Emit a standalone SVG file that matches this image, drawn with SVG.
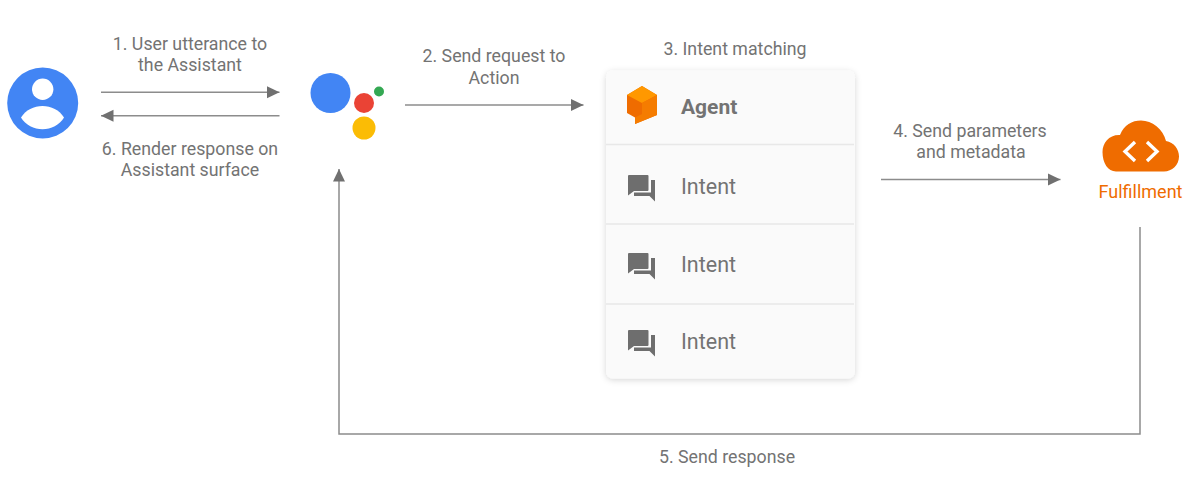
<svg xmlns="http://www.w3.org/2000/svg" width="1200" height="489" viewBox="0 0 1200 489">
<style>
text{font-family:Roboto,"Liberation Sans",sans-serif;fill:#737373;font-size:17.75px;text-anchor:middle}
.it{font-size:21.5px;text-anchor:start}
.c{fill:none;stroke:#8c8c8c;stroke-width:1.5}
</style>
<defs>
<marker id="a" markerUnits="userSpaceOnUse" markerWidth="14" markerHeight="14" refX="12.500" refY="7" orient="auto"><path d="M0 1L12.500 7L0 13Z" fill="#707070"/></marker>
<filter id="s" x="-10%" y="-10%" width="120%" height="120%"><feDropShadow dx="0" dy="1.5" stdDeviation="3" flood-color="#000" flood-opacity=".16"/></filter>
<g id="chat"><path d="M629 175H647.500Q648.500 175 648.500 176V190Q648.500 191 647.500 191H634L628 195.500V176Q628 175 629 175Z" fill="#6e6e6e"/><path d="M634 192.500H651V180H655V201.500L649.500 196H634Z" fill="#6e6e6e"/></g>
</defs>
<rect width="1200" height="489" fill="#fff"/>
<g id="connectors">
<path class="c" d="M101 92.300H279.500" marker-end="url(#a)"/>
<path class="c" d="M279.500 115.700H101" marker-end="url(#a)"/>
<path class="c" d="M405 105H583.500" marker-end="url(#a)"/>
<path class="c" d="M881 179.500H1060.500" marker-end="url(#a)"/>
<path class="c" d="M1140 227V434H339V169" marker-end="url(#a)"/>
</g>
<g id="labels">
<text x="190" y="50">1. User utterance to</text><text x="190" y="71">the Assistant</text>
<text x="190" y="155">6. Render response on</text><text x="190" y="176">Assistant surface</text>
<text x="494" y="62">2. Send request to</text><text x="494" y="84">Action</text>
<text x="735" y="55">3. Intent matching</text>
<text x="970" y="137">4. Send parameters</text><text x="971" y="158">and metadata</text>
<text x="727" y="462.500">5. Send response</text>
</g>
<g id="user">
<circle cx="42.700" cy="103" r="35.500" fill="#4285f4"/>
<circle cx="42.700" cy="89.200" r="10.700" fill="#fff"/>
<path d="M21 117.500C30 102 55 102 64 117.500C55 133 30 133 21 117.500Z" fill="#fff"/>
</g>
<g id="assistant">
<circle cx="330.500" cy="93" r="20" fill="#4285f4"/>
<circle cx="364" cy="103" r="10" fill="#ea4335"/>
<circle cx="379" cy="91.500" r="5" fill="#34a853"/>
<circle cx="364" cy="128" r="11.500" fill="#fbbc05"/>
</g>
<g id="panel">
<rect x="606" y="70.500" width="249" height="308" rx="7" fill="#fafafa" filter="url(#s)"/>
<path d="M606 144.500H854M606 224H854M606 304H854" stroke="#e8e8e8" stroke-width="1.300" fill="none"/>
</g>
<g id="agent">
<path d="M642 86L657 95V115L635 124V117.500L627 113V95Z" fill="#ef6c00"/>
<path d="M642 86L657 95L642 103L627 95Z" fill="#ff9800"/>
<path d="M642 103L657 95V115L635 124V117.500L642 114Z" fill="#f57c00"/>
<text class="it" x="681" y="114" style="font-weight:700;font-size:21px">Agent</text>
</g>
<g id="intent1"><use href="#chat"/><text class="it" x="681" y="194">Intent</text></g>
<g id="intent2"><use href="#chat" y="78"/><text class="it" x="681" y="272">Intent</text></g>
<g id="intent3"><use href="#chat" y="155"/><text class="it" x="681" y="349">Intent</text></g>
<g id="fulfillment">
<path d="M1116 171.500H1164C1172 171.500 1179 165 1179 156.500C1179 149 1174 142.500 1166 141C1163 129 1152 120.500 1141 120.500C1132 120.500 1124 125 1120 135C1109 134.500 1102.500 143 1102.500 152C1102.500 163 1108 171.500 1116 171.500Z" fill="#ef6c00"/>
<path d="M1135 142L1125 151.500L1135 161M1147 142L1157 151.500L1147 161" fill="none" stroke="#fff" stroke-width="3.400"/>
<text x="1140.500" y="198" style="fill:#ef6c00;font-size:18px">Fulfillment</text>
</g>
</svg>
